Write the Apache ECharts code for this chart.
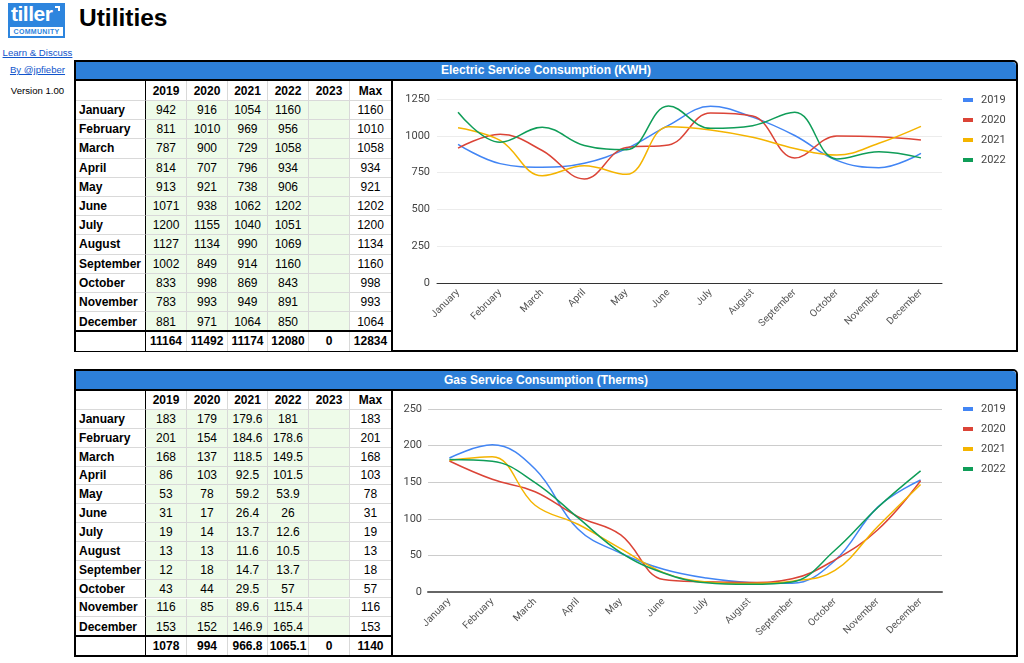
<!DOCTYPE html>
<html><head><meta charset="utf-8">
<script src="https://cdn.jsdelivr.net/npm/echarts@6/dist/echarts.min.js"></script>
<style>
html,body{margin:0;padding:0;background:#fff;width:1024px;height:663px;overflow:hidden;font-family:"Liberation Sans",Arial,sans-serif;}
.abs{position:absolute;}
.block{position:absolute;border:2px solid #000;box-sizing:border-box;border-top-right-radius:5px;}
.hdr{position:absolute;background:#2d7fd8;color:#fff;font-weight:bold;font-size:12px;text-align:center;border-top-right-radius:4px;}
.cell{position:absolute;box-sizing:border-box;font-size:12px;display:flex;align-items:center;justify-content:center;color:#000;white-space:nowrap;}
.side{position:absolute;left:0;width:75px;text-align:center;font-size:9.6px;}
.side a{color:#1155cc;text-decoration:underline;}
#chart{position:absolute;left:0;top:0;width:1024px;height:663px;pointer-events:none;}
</style></head>
<body>
<!-- logo -->
<div class="abs" style="left:8px;top:3px;width:57px;height:35px;background:#2d85de;box-sizing:border-box;border:2px solid #2d85de;">
  <div class="abs" style="left:1px;top:-3px;color:#fff;font-weight:bold;font-size:21px;font-family:'Liberation Sans',Arial,sans-serif;letter-spacing:-0.5px;">tiller</div>
  <div class="abs" style="left:45px;top:1px;width:5px;height:5px;border-top:2px solid #fff;border-right:2px solid #fff;box-sizing:border-box;"></div>
  <div class="abs" style="left:0;top:22px;width:53px;height:9px;background:#fff;color:#2d85de;font-weight:bold;font-size:7px;line-height:9px;text-align:center;letter-spacing:0.3px;">COMMUNITY</div>
</div>
<div class="abs" style="left:79px;top:4px;font-size:24.5px;font-weight:bold;color:#000;">Utilities</div>
<div class="side" style="top:47px;"><a>Learn &amp; Discuss</a></div>
<div class="side" style="top:64px;"><a>By @jpfieber</a></div>
<div class="side" style="top:85px;color:#000;">Version 1.00</div>

<div id="tables"></div>
<div id="chart"></div>
<script>
const months = ["January","February","March","April","May","June","July","August","September","October","November","December"];
const years = ["2019","2020","2021","2022"];
const yearCols = ["2019","2020","2021","2022","2023"];

const elec2019 = [942,811,787,814,913,1071,1200,1127,1002,833,783,881];
const elec2020 = [916,1010,900,707,921,938,1155,1134,849,998,993,971];
const elec2021 = [1054,969,729,796,738,1062,1040,990,914,869,949,1064];
const elec2022 = [1160,956,1058,934,906,1202,1051,1069,1160,843,891,850];
const elec2023 = [null,null,null,null,null,null,null,null,null,null,null,null];
const elecMax = [1160,1010,1058,934,921,1202,1200,1134,1160,998,993,1064];
const elecTotals = ["11164","11492","11174","12080","0","12834"];

const gas2019 = [183,201,168,86,53,31,19,13,12,43,116,153];
const gas2020 = [179,154,137,103,78,17,14,13,18,44,85,152];
const gas2021 = [179.6,184.6,118.5,92.5,59.2,26.4,13.7,11.6,14.7,29.5,89.6,146.9];
const gas2022 = [181,178.6,149.5,101.5,53.9,26,12.6,10.5,13.7,57,115.4,165.4];
const gas2023 = [null,null,null,null,null,null,null,null,null,null,null,null];
const gasMax = [183,201,168,103,78,31,19,13,18,57,116,153];
const gasTotals = ["1078","994","966.8","1065.1","0","1140"];

const elecTicks = [0,250,500,750,1000,1250];
const gasTicks = [0,50,100,150,200,250];

const colors = ["#4285F4","#DB4437","#F4B400","#0F9D58"];

function buildBlock(cfg){
  const root = document.getElementById('tables');
  const add = (html)=>{root.insertAdjacentHTML('beforeend', html);};
  add(`<div class="block" style="left:74px;top:${cfg.blockTop}px;width:944px;height:${cfg.blockH}px;"></div>`);
  add(`<div class="hdr" style="left:76px;top:${cfg.blockTop+2}px;width:940px;height:${cfg.hdrH}px;line-height:${cfg.hdrH}px;">${cfg.title}</div>`);
  add(`<div class="abs" style="left:76px;top:${cfg.blockTop+2+cfg.hdrH}px;width:940px;height:2px;background:#000;"></div>`);
  const edges = [76,146,187,228,268,309,350,391];
  const cols = cfg.cols;
  const rows = [];
  rows.push({label:"", vals:[...yearCols,"Max"], bold:true, hdr:true});
  months.forEach((m,i)=>rows.push({label:m, vals:[...cols.map(c=>c[i]==null?"":String(c[i])), String(cfg.max[i])], bold:false}));
  rows.push({label:"", vals:cfg.totals, bold:true, total:true});
  rows.forEach((row,r)=>{
    const y0 = cfg.top + (r===0?0:cfg.headH+(r-1)*cfg.rowH);
    const h = r===0?cfg.headH:cfg.rowH;
    for(let c=0;c<7;c++){
      const x0=edges[c], w=edges[c+1]-edges[c];
      let text = c===0?row.label:row.vals[c-1];
      let bg = '#fff';
      if(c>=1 && c<=5 && !row.hdr && !row.total) bg='#eefbe9';
      let br = c===0 ? '1px solid #000' : (c===6?'none':'1px solid #d9d9d9');
      let bb = (r>=12)?'none':'1px solid #d9d9d9';
      let weight = (c===0 || row.bold)?'bold':'normal';
      let just = c===0?'flex-start':'center';
      let pad = c===0?'padding-left:3px;':'';
      add(`<div class="cell" style="left:${x0}px;top:${y0}px;width:${w}px;height:${h}px;background:${bg};border-right:${br};border-bottom:${bb};font-weight:${weight};justify-content:${just};${pad}">${text}</div>`);
    }
  });
  const ty = cfg.top + cfg.headH + 12*cfg.rowH;
  add(`<div class="abs" style="left:76px;top:${ty-1}px;width:316px;height:2px;background:#000;"></div>`);
  add(`<div class="abs" style="left:391px;top:${cfg.top}px;width:2px;height:${cfg.blockTop+cfg.blockH-2-cfg.top}px;background:#000;"></div>`);
}

buildBlock({blockTop:60, blockH:292, hdrH:17, top:81, headH:20, rowH:19.2, title:"Electric Service Consumption (KWH)", cols:[elec2019,elec2020,elec2021,elec2022,elec2023], max:elecMax, totals:elecTotals});
buildBlock({blockTop:369, blockH:288, hdrH:18, top:391, headH:19, rowH:18.85, title:"Gas Service Consumption (Therms)", cols:[gas2019,gas2020,gas2021,gas2022,gas2023], max:gasMax, totals:gasTotals});

const chart = echarts.init(document.getElementById('chart'), null, {renderer:'canvas'});
const elecSeries = [elec2019,elec2020,elec2021,elec2022];
const gasSeries = [gas2019,gas2020,gas2021,gas2022];

function xAx(gi, lineColor, lineWidth){
  return {type:'category', gridIndex:gi, data:months, boundaryGap:true,
    axisTick:{show:false},
    axisLine:{show:true, lineStyle:{color:lineColor, width:lineWidth}},
    axisLabel:{rotate:45, interval:0, fontSize:10, color:'#555', margin:8, fontFamily:'Roboto'}};
}
function yAx(gi, ticks, splitColor, margin){
  return {type:'value', gridIndex:gi, min:ticks[0], max:ticks[ticks.length-1], interval:ticks[1]-ticks[0],
    axisLine:{show:false}, axisTick:{show:false},
    splitLine:{lineStyle:{color:splitColor, width:1}},
    axisLabel:{fontSize:11, color:'#444', margin:margin, fontFamily:'Roboto', formatter:(v)=>String(v)}};
}
function legend(top, gi){
  return {orient:'vertical', left:958, top:top, icon:'rect', itemWidth:10, itemHeight:4, itemGap:8,
    data:years.map((y,i)=>({name:y+(gi?' ':'')})),
    textStyle:{fontSize:11, color:'#444', lineHeight:12, fontFamily:'Roboto', padding:[0,0,0,3]}};
}
const series = [];
elecSeries.forEach((d,i)=>series.push({name:years[i], type:'line', xAxisIndex:0, yAxisIndex:0, data:d, smooth:0.4, symbol:'none', lineStyle:{width:1.5, color:colors[i]}, itemStyle:{color:colors[i]}}));
gasSeries.forEach((d,i)=>series.push({name:years[i]+' ', type:'line', xAxisIndex:1, yAxisIndex:1, data:d, smooth:0.4, symbol:'none', lineStyle:{width:1.5, color:colors[i]}, itemStyle:{color:colors[i]}}));

chart.setOption({
  animation:false,
  textStyle:{fontFamily:'Roboto'},
  grid:[{left:437, right:82, top:99, bottom:380}, {left:428, right:82, top:409, bottom:71}],
  xAxis:[xAx(0,'#333',1), xAx(1,'#666',2)],
  yAxis:[yAx(0,elecTicks,'#ececec',7), yAx(1,gasTicks,'#cccccc',6)],
  legend:[legend(89,0), legend(398,1)],
  series:series
});
</script>
</body></html>
